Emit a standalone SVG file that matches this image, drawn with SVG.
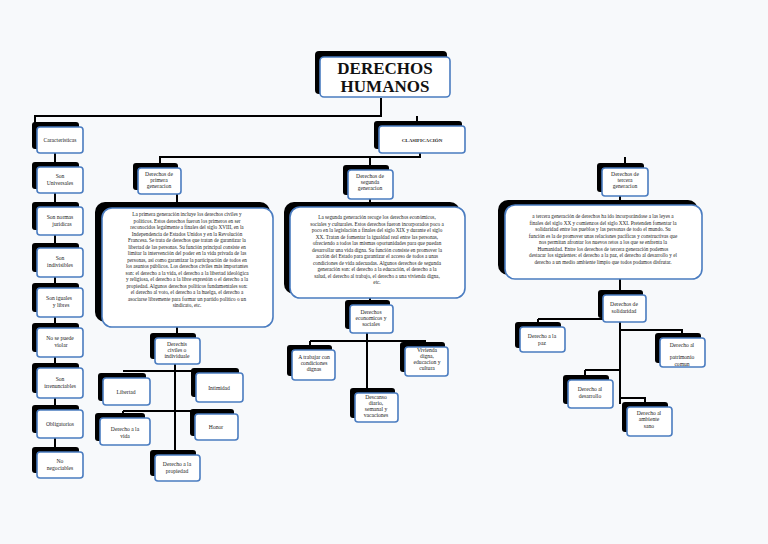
<svg xmlns="http://www.w3.org/2000/svg" width="768" height="544" viewBox="0 0 768 544">
<style>
.s{fill:#000}
.b{fill:#fff;stroke:#4a7cc0;stroke-width:1.6}
.c{fill:none;stroke:#000;stroke-width:2}
text{font-family:"Liberation Serif",serif;font-size:5.6px;fill:#222;text-anchor:middle}
.t{font-size:5.2px}
.h{font-size:17px;font-weight:bold;fill:#111}
</style>
<rect width="768" height="544" fill="#f7f9fb"/>
<g id="connectors">
<path class="c" d="M381 98V116H35V125M55 153V452M417 116V126M420 153V157H160V168M370 157V170M625 157V168"/>
<path class="c" d="M177 194V208M177 326V338M175 363V455M123 371H218V373M123 373V378M123 411H218M123 411V418M218 411V414"/>
<path class="c" d="M370 199V207M370 298V305M367 333V393M310 341H425V347M310 341V350"/>
<path class="c" d="M620 196V205M620 279V295M620 322V404M538 319H605M538 319V327M620 330H682V338M585 370H620M585 370V380M620 398H645V407"/>
</g>
<g id="title"><rect class="s" x="315" y="51" width="132" height="43" rx="4"/><rect class="b" x="320" y="57" width="130" height="40" rx="4"/><text class="h" x="385" y="74">DERECHOS</text><text class="h" x="385" y="92">HUMANOS</text></g>
<g id="clasificacion"><rect class="s" x="374" y="121" width="88" height="28" rx="3"/><rect class="b" x="379" y="126" width="86" height="27" rx="3"/><text x="422" y="142" style="font-weight:bold;font-size:5px">CLASIFICACIÓN</text></g>
<g id="left">
<rect class="s" x="32" y="122" width="47" height="27" rx="3"/><rect class="b" x="37" y="127" width="46" height="26" rx="3"/><text x="60" y="142">Características</text>
<rect class="s" x="32" y="162" width="47" height="27" rx="3"/><rect class="b" x="37" y="167" width="46" height="26" rx="3"/><text x="60" y="178">Son</text><text x="60" y="185">Universales</text>
<rect class="s" x="32" y="202" width="47" height="28" rx="3"/><rect class="b" x="37" y="207" width="46" height="28" rx="3"/><text x="60" y="219">Son normas</text><text x="62" y="226">jurídicas</text>
<rect class="s" x="32" y="243" width="47" height="29" rx="3"/><rect class="b" x="37" y="248" width="46" height="29" rx="3"/><text x="60" y="260">Son</text><text x="60" y="267">indivisibles</text>
<rect class="s" x="32" y="283" width="47" height="29" rx="3"/><rect class="b" x="37" y="288" width="46" height="29" rx="3"/><text x="59" y="300">Son iguales</text><text x="61" y="307">y  libres</text>
<rect class="s" x="32" y="323" width="47" height="29" rx="3"/><rect class="b" x="37" y="328" width="46" height="29" rx="3"/><text x="60" y="340">No se puede</text><text x="61" y="347">violar</text>
<rect class="s" x="32" y="363" width="47" height="30" rx="3"/><rect class="b" x="37" y="368" width="46" height="30" rx="3"/><text x="60" y="381">Son</text><text x="60" y="388">irrenunciables</text>
<rect class="s" x="32" y="405" width="47" height="28" rx="3"/><rect class="b" x="37" y="410" width="46" height="28" rx="3"/><text x="60" y="426">Obligatorios</text>
<rect class="s" x="32" y="447" width="47" height="26" rx="3"/><rect class="b" x="37" y="452" width="46" height="26" rx="3"/><text x="60" y="463">No</text><text x="60" y="470">negociables</text>
</g>
<g id="gen1">
<rect class="s" x="133" y="163" width="45" height="27" rx="3"/><rect class="b" x="138" y="168" width="43" height="26" rx="3"/><text x="159" y="176">Derechos de</text><text x="159" y="182">primera</text><text x="159" y="188">generacion</text>
<rect class="s" x="95" y="202" width="175" height="120" rx="10"/><rect class="b" x="102" y="208" width="171" height="119" rx="10"/>
<text class="t" x="187" y="216">La primera generación incluye los derechos civiles y</text>
<text class="t" x="187" y="222.5">políticos. Estos derechos fueron los primeros en ser</text>
<text class="t" x="187" y="229">reconocidos legalmente a finales del siglo XVIII, en la</text>
<text class="t" x="187" y="235.5">Independencia de Estados Unidos y en la Revolución</text>
<text class="t" x="187" y="242">Francesa. Se trata de derechos que tratan de garantizar la</text>
<text class="t" x="187" y="248.5">libertad de las personas. Su función principal consiste en</text>
<text class="t" x="187" y="255">limitar la intervención del poder en la vida privada de las</text>
<text class="t" x="187" y="261.5">personas, así como garantizar la participación de todos en</text>
<text class="t" x="187" y="268">los asuntos públicos. Los derechos civiles más importantes</text>
<text class="t" x="187" y="274.5">son: el derecho a la vida, el derecho a la libertad ideológica</text>
<text class="t" x="187" y="281">y religiosa, el derecho a la libre expresión o el derecho a la</text>
<text class="t" x="187" y="287.5">propiedad. Algunos derechos políticos fundamentales son:</text>
<text class="t" x="187" y="294">el derecho al voto, el derecho a la huelga, el derecho a</text>
<text class="t" x="187" y="300.5">asociarse libremente para formar un partido político o un</text>
<text class="t" x="187" y="307">sindicato, etc.</text>
<rect class="s" x="150" y="333" width="46" height="26" rx="3"/><rect class="b" x="155" y="338" width="45" height="26" rx="3"/><text x="177" y="346">Derechis</text><text x="177" y="352">civiles o</text><text x="177" y="358">individuale</text>
<rect class="s" x="98" y="373" width="48" height="28" rx="3"/><rect class="b" x="103" y="378" width="47" height="27" rx="3"/><text x="126" y="394">Libertad</text>
<rect class="s" x="191" y="368" width="48" height="29" rx="3"/><rect class="b" x="196" y="373" width="47" height="29" rx="3"/><text x="219" y="390">Intimidad</text>
<rect class="s" x="95" y="413" width="50" height="28" rx="3"/><rect class="b" x="100" y="418" width="50" height="27" rx="3"/><text x="125" y="431">Derecho a la</text><text x="125" y="438">vida</text>
<rect class="s" x="190" y="409" width="44" height="27" rx="3"/><rect class="b" x="195" y="414" width="43" height="26" rx="3"/><text x="216" y="429">Honor</text>
<rect class="s" x="150" y="450" width="46" height="26" rx="3"/><rect class="b" x="155" y="455" width="45" height="26" rx="3"/><text x="177" y="466">Derecho a la</text><text x="177" y="473">propiedad</text>
</g>
<g id="gen2">
<rect class="s" x="343" y="165" width="46" height="30" rx="3"/><rect class="b" x="348" y="170" width="45" height="29" rx="3"/><text x="370" y="178">Derechos de</text><text x="370" y="184">segunda</text><text x="370" y="190">generacion</text>
<rect class="s" x="284" y="202" width="176" height="92" rx="10"/><rect class="b" x="290" y="207" width="175" height="91" rx="10"/>
<text class="t" x="377" y="219">La segunda generación recoge los derechos económicos,</text>
<text class="t" x="377" y="225.5">sociales y culturales. Estos derechos fueron incorporados poco  a</text>
<text class="t" x="377" y="232">poco en la legislación a finales del siglo XIX y durante el siglo</text>
<text class="t" x="377" y="238.5">XX. Tratan de fomentar la igualdad real entre las personas,</text>
<text class="t" x="377" y="245">ofreciendo a todos las mismas oportunidades para que puedan</text>
<text class="t" x="377" y="251.5">desarrollar una vida digna. Su función consiste en promover la</text>
<text class="t" x="377" y="258">acción del Estado para garantizar el acceso de todos a unas</text>
<text class="t" x="377" y="264.5">condiciones de vida adecuadas. Algunos derechos de segunda</text>
<text class="t" x="377" y="271">generación son: el derecho a la educación, el derecho a la</text>
<text class="t" x="377" y="277.5">salud, el derecho al trabajo, el derecho a una vivienda digna,</text>
<text class="t" x="377" y="284">etc.</text>
<rect class="s" x="345" y="300" width="45" height="29" rx="3"/><rect class="b" x="350" y="305" width="43" height="28" rx="3"/><text x="371" y="314">Derechos</text><text x="371" y="320">economicos y</text><text x="371" y="326">sociales</text>
<rect class="s" x="287" y="345" width="45" height="31" rx="3"/><rect class="b" x="292" y="350" width="43" height="30" rx="3"/><text x="314" y="359">A trabajar con</text><text x="314" y="365">condiciones</text><text x="314" y="371">dignas</text>
<rect class="s" x="400" y="342" width="45" height="30" rx="3"/><rect class="b" x="405" y="347" width="43" height="29" rx="3"/><text x="427" y="352">Vivienda</text><text x="427" y="358">digna,</text><text x="427" y="364">educacion y</text><text x="427" y="370">cultura</text>
<rect class="s" x="350" y="388" width="45" height="30" rx="3"/><rect class="b" x="355" y="393" width="43" height="29" rx="3"/><text x="376" y="399">Descanso</text><text x="376" y="405">diario,</text><text x="376" y="411">semanal y</text><text x="376" y="417">vacaciones</text>
</g>
<g id="gen3">
<rect class="s" x="597" y="163" width="47" height="29" rx="3"/><rect class="b" x="602" y="168" width="46" height="28" rx="3"/><text x="625" y="176">Derechos de</text><text x="625" y="182">tercera</text><text x="625" y="188">generacion</text>
<rect class="s" x="498" y="200" width="200" height="75" rx="10"/><rect class="b" x="505" y="205" width="197" height="74" rx="10"/>
<text class="t" x="603" y="218">a tercera generación de derechos ha ido incorporándose a las leyes a</text>
<text class="t" x="603" y="224.5">finales del siglo XX y comienzos del siglo XXI. Pretenden fomentar la</text>
<text class="t" x="603" y="231">solidaridad entre los pueblos y las personas de todo el mundo. Su</text>
<text class="t" x="603" y="237.5">función es la de promover unas relaciones pacíficas y constructivas que</text>
<text class="t" x="603" y="244">nos permitan afrontar los nuevos retos a los que se enfrenta la</text>
<text class="t" x="603" y="250.5">Humanidad. Entre los derechos de tercera generación podemos</text>
<text class="t" x="603" y="257">destacar los siguientes: el derecho a la paz, el derecho al desarrollo y el</text>
<text class="t" x="603" y="263.5">derecho a un medio ambiente limpio que todos podamos disfrutar.</text>
<rect class="s" x="598" y="290" width="45" height="28" rx="3"/><rect class="b" x="603" y="295" width="43" height="27" rx="3"/><text x="624" y="306">Derechos de</text><text x="624" y="313">solidaridad</text>
<rect class="s" x="515" y="322" width="46" height="26" rx="3"/><rect class="b" x="520" y="327" width="45" height="25" rx="3"/><text x="542" y="338">Derecho a la</text><text x="542" y="345">paz</text>
<rect class="s" x="655" y="333" width="46" height="30" rx="3"/><rect class="b" x="660" y="338" width="45" height="29" rx="3"/><text x="682" y="347">Derecho al</text><text x="682" y="359">patrimonio</text><text x="682" y="366">comun</text>
<rect class="s" x="563" y="375" width="46" height="29" rx="3"/><rect class="b" x="568" y="380" width="45" height="28" rx="3"/><text x="590" y="391">Derecho al</text><text x="590" y="398">desarrollo</text>
<rect class="s" x="622" y="402" width="46" height="30" rx="3"/><rect class="b" x="627" y="407" width="45" height="29" rx="3"/><text x="649" y="415">Derecho al</text><text x="649" y="421">ambiente</text><text x="649" y="428">sano</text>
</g>
</svg>
